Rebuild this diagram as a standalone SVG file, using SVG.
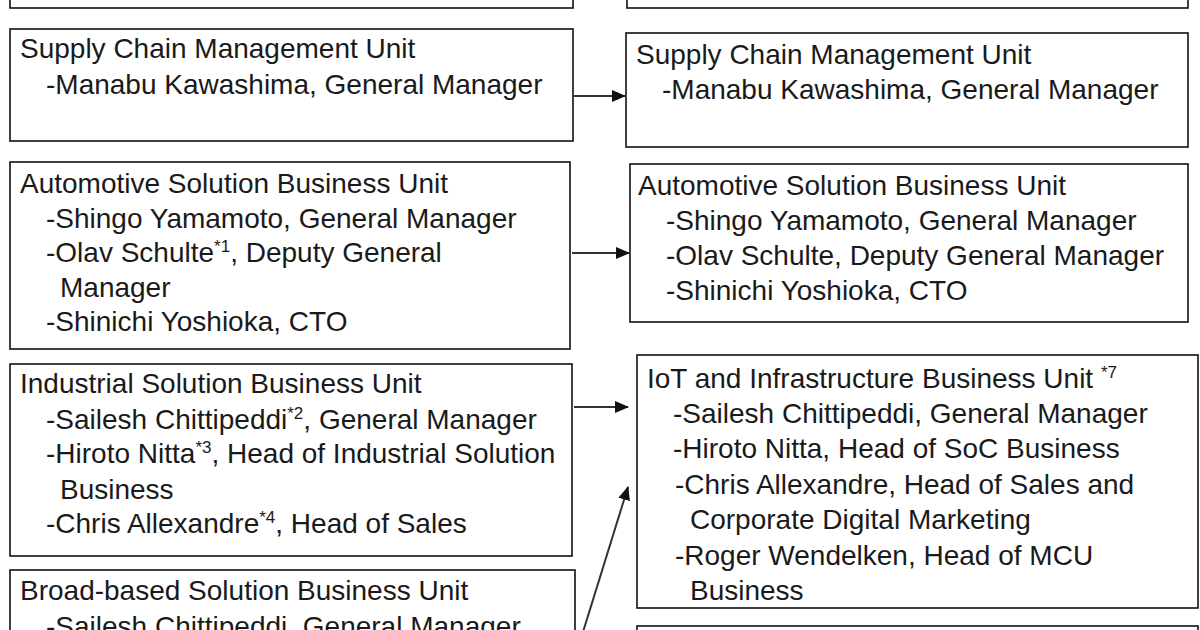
<svg xmlns="http://www.w3.org/2000/svg" width="1200" height="630" viewBox="0 0 1200 630">
<defs>
<style>
.box{fill:#fff;stroke:#111;stroke-width:1.6}
.t{font-family:"Liberation Sans",Arial,sans-serif;font-size:28px;fill:#1a1a1a}
.sup{font-size:17px}
.con{stroke:#333;stroke-width:2;fill:none}
</style>
<marker id="ah" markerUnits="userSpaceOnUse" markerWidth="14" markerHeight="12" refX="13" refY="6" orient="auto">
<path d="M0,0 L14,6 L0,12 Z" fill="#111"/>
</marker>
</defs>
<rect width="1200" height="630" fill="#fff"/>

<g id="top-left"><rect class="box" x="10" y="-20" width="563" height="28"/></g>
<g id="top-right"><rect class="box" x="627" y="-20" width="561" height="28"/></g>

<g id="scm-old">
<rect class="box" x="10" y="29" width="563" height="112"/>
<text class="t" x="20" y="58">Supply Chain Management Unit</text>
<text class="t" x="46" y="94">-Manabu Kawashima, General Manager</text>
</g>
<g id="scm-new">
<rect class="box" x="626" y="33" width="562" height="114"/>
<text class="t" x="636" y="64">Supply Chain Management Unit</text>
<text class="t" x="662" y="99">-Manabu Kawashima, General Manager</text>
</g>

<g id="auto-old">
<rect class="box" x="10" y="162" width="560" height="187"/>
<text class="t" x="20" y="193">Automotive Solution Business Unit</text>
<text class="t" x="46" y="228">-Shingo Yamamoto, General Manager</text>
<text class="t" x="46" y="262">-Olav Schulte<tspan class="sup" dy="-10">*1</tspan><tspan dy="10">, Deputy General</tspan></text>
<text class="t" x="60" y="297">Manager</text>
<text class="t" x="46" y="331">-Shinichi Yoshioka, CTO</text>
</g>
<g id="auto-new">
<rect class="box" x="630" y="164" width="558" height="158"/>
<text class="t" x="638" y="195">Automotive Solution Business Unit</text>
<text class="t" x="666" y="230">-Shingo Yamamoto, General Manager</text>
<text class="t" x="666" y="265">-Olav Schulte, Deputy General Manager</text>
<text class="t" x="666" y="300">-Shinichi Yoshioka, CTO</text>
</g>

<g id="industrial">
<rect class="box" x="10" y="364" width="562" height="192"/>
<text class="t" x="20" y="393">Industrial Solution Business Unit</text>
<text class="t" x="46" y="429">-Sailesh Chittipeddi<tspan class="sup" dy="-10">*2</tspan><tspan dy="10">, General Manager</tspan></text>
<text class="t" x="46" y="463">-Hiroto Nitta<tspan class="sup" dy="-10">*3</tspan><tspan dy="10">, Head of Industrial Solution</tspan></text>
<text class="t" x="60" y="499">Business</text>
<text class="t" x="46" y="533">-Chris Allexandre<tspan class="sup" dy="-10">*4</tspan><tspan dy="10">, Head of Sales</tspan></text>
</g>

<g id="iot">
<rect class="box" x="637" y="355" width="561" height="253"/>
<text class="t" x="647" y="388">IoT and Infrastructure Business Unit <tspan class="sup" dy="-10">*7</tspan></text>
<text class="t" x="673" y="423">-Sailesh Chittipeddi, General Manager</text>
<text class="t" x="673" y="458">-Hiroto Nitta, Head of SoC Business</text>
<text class="t" x="675" y="494">-Chris Allexandre, Head of Sales and</text>
<text class="t" x="690" y="529">Corporate Digital Marketing</text>
<text class="t" x="675" y="565">-Roger Wendelken, Head of MCU</text>
<text class="t" x="690" y="600">Business</text>
</g>

<g id="broad">
<rect class="box" x="10" y="570" width="565" height="80"/>
<text class="t" x="20" y="600">Broad-based Solution Business Unit</text>
<text class="t" x="46" y="636">-Sailesh Chittipeddi, General Manager</text>
</g>

<g id="bottom-right"><rect class="box" x="637" y="626" width="561" height="20"/></g>

<g id="connectors">
<line class="con" x1="574" y1="96" x2="625" y2="96" marker-end="url(#ah)"/>
<line class="con" x1="572" y1="253" x2="629" y2="253" marker-end="url(#ah)"/>
<line class="con" x1="574" y1="407" x2="628" y2="407" marker-end="url(#ah)"/>
<line class="con" x1="583" y1="632" x2="628" y2="487" marker-end="url(#ah)"/>
</g>
</svg>
